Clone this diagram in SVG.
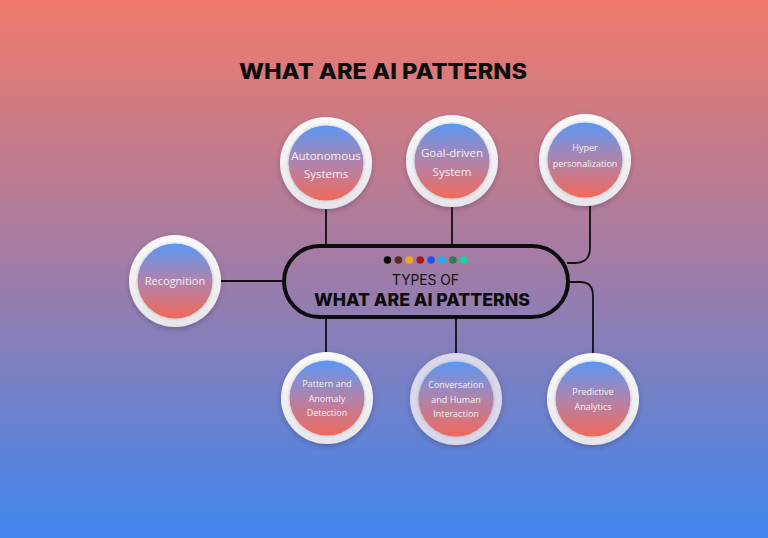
<svg xmlns="http://www.w3.org/2000/svg" width="768" height="538" viewBox="0 0 768 538">
<defs>
<linearGradient id="bg" x1="0" y1="0" x2="0" y2="1">
<stop offset="0" stop-color="#f17a6b"/>
<stop offset="0.5" stop-color="#a07ca7"/>
<stop offset="1" stop-color="#3f86ef"/>
</linearGradient>
<linearGradient id="inner" x1="0" y1="0" x2="0" y2="1">
<stop offset="0" stop-color="#5a98f3"/>
<stop offset="0.5" stop-color="#b083ab"/>
<stop offset="1" stop-color="#f1695a"/>
</linearGradient>
<linearGradient id="ring" x1="0" y1="0" x2="0" y2="1">
<stop offset="0" stop-color="#fafafa"/>
<stop offset="1" stop-color="#e6e6ea"/>
</linearGradient>
<filter id="sh" x="-30%" y="-30%" width="160%" height="160%">
<feDropShadow dx="0" dy="2" stdDeviation="2.5" flood-color="#3a2a50" flood-opacity="0.35"/>
</filter>
<filter id="ish" x="-30%" y="-30%" width="160%" height="160%">
<feDropShadow dx="0" dy="0" stdDeviation="1.5" flood-color="#000" flood-opacity="0.25"/>
</filter>
</defs>
<style>
.ring{fill:url(#ring);filter:url(#sh)}
.ring2{fill:#d9d8ea;filter:url(#sh)}
.inner{fill:url(#inner);filter:url(#ish)}
.lbl{font-family:"Open Sans","Liberation Sans",sans-serif;fill:#f6f0f2;text-anchor:middle;font-weight:500}
.conn{fill:none;stroke:#111;stroke-width:1.8}
.title{font-family:Inter,"Liberation Sans",sans-serif;font-weight:800;fill:#0d0d0d;text-anchor:middle}
</style>
<rect x="0" y="0" width="768" height="538" fill="url(#bg)"/>
<text class="title" x="383" y="79" font-size="21" textLength="288" lengthAdjust="spacingAndGlyphs">WHAT ARE AI PATTERNS</text>

<g id="connectors">
<line class="conn" x1="326" y1="209" x2="326" y2="246"/>
<line class="conn" x1="452" y1="206" x2="452" y2="246"/>
<path class="conn" d="M590 206 V248 Q590 263 575 263 H567"/>
<line class="conn" x1="221" y1="281" x2="282" y2="281"/>
<line class="conn" x1="326" y1="318" x2="326" y2="353"/>
<line class="conn" x1="456" y1="318" x2="456" y2="354"/>
<path class="conn" d="M569 282 H580 Q593 282 593 296 V354"/>
</g>

<g id="center">
<rect x="284" y="246" width="284" height="71" rx="35.5" fill="none" stroke="#0d0d0d" stroke-width="4"/>
<circle cx="387.5" cy="260" r="3.8" fill="#0a0a0a"/>
<circle cx="398.4" cy="260" r="3.8" fill="#5b2a20"/>
<circle cx="409.3" cy="260" r="3.8" fill="#f5a41b"/>
<circle cx="420.2" cy="260" r="3.8" fill="#a8161b"/>
<circle cx="431.1" cy="260" r="3.8" fill="#1f4ff5"/>
<circle cx="442" cy="260" r="3.8" fill="#19b2ee"/>
<circle cx="452.9" cy="260" r="3.8" fill="#2e7b52"/>
<circle cx="463.8" cy="260" r="3.8" fill="#14d6a4"/>
<text x="425.5" y="285" font-family="Inter,'Liberation Sans',sans-serif" font-size="15" fill="#111" text-anchor="middle" textLength="67" lengthAdjust="spacingAndGlyphs">TYPES OF</text>
<text class="title" x="422" y="306" font-size="18" textLength="216" lengthAdjust="spacingAndGlyphs">WHAT ARE AI PATTERNS</text>
</g>

<g id="n-autonomous">
<circle class="ring" cx="326" cy="163" r="46"/>
<circle class="inner" cx="326" cy="163" r="37.5"/>
<text class="lbl" x="326" y="160" font-size="11.5">Autonomous</text>
<text class="lbl" x="326" y="178" font-size="11.5">Systems</text>
</g>
<g id="n-goal">
<circle class="ring" cx="452" cy="161" r="46"/>
<circle class="inner" cx="452" cy="161" r="37.5"/>
<text class="lbl" x="452" y="157" font-size="11.5">Goal-driven</text>
<text class="lbl" x="452" y="176" font-size="11.5">System</text>
</g>
<g id="n-hyper">
<circle class="ring" cx="585" cy="160" r="46"/>
<circle class="inner" cx="585" cy="160" r="37.5"/>
<text class="lbl" x="585" y="151" font-size="9">Hyper</text>
<text class="lbl" x="585" y="167" font-size="9">personalization</text>
</g>
<g id="n-recognition">
<circle class="ring" cx="175" cy="281" r="46"/>
<circle class="inner" cx="175" cy="281" r="37.5"/>
<text class="lbl" x="175" y="285" font-size="11">Recognition</text>
</g>
<g id="n-pattern">
<circle class="ring" cx="327" cy="398" r="46"/>
<circle class="inner" cx="327" cy="398" r="37.5"/>
<text class="lbl" x="327" y="387" font-size="9">Pattern and</text>
<text class="lbl" x="327" y="402" font-size="9">Anomaly</text>
<text class="lbl" x="327" y="416" font-size="9">Detection</text>
</g>
<g id="n-conversation">
<circle class="ring2" cx="456" cy="399" r="46"/>
<circle class="inner" cx="456" cy="399" r="37.5"/>
<text class="lbl" x="456" y="388" font-size="9">Conversation</text>
<text class="lbl" x="456" y="403" font-size="9">and Human</text>
<text class="lbl" x="456" y="417" font-size="9">Interaction</text>
</g>
<g id="n-predictive">
<circle class="ring" cx="593" cy="399" r="46"/>
<circle class="inner" cx="593" cy="399" r="37.5"/>
<text class="lbl" x="593" y="395" font-size="9">Predictive</text>
<text class="lbl" x="593" y="410" font-size="9">Analytics</text>
</g>
</svg>
